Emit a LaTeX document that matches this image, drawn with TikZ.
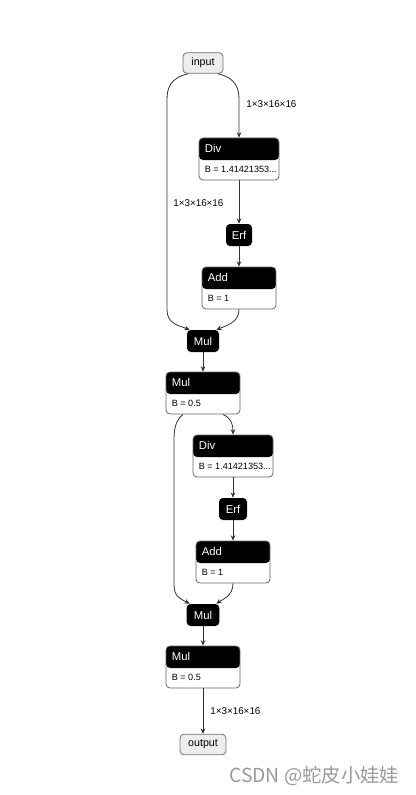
\documentclass[tikz,border=0pt]{standalone}
\usepackage{fontspec}
\setmainfont{Liberation Sans}
\newfontfamily\cjk{Noto Sans CJK SC}
\usetikzlibrary{arrows.meta}

\begin{document}
\begin{tikzpicture}[x=0.75pt,y=-0.75pt,
		edge/.style={draw=black!80, line width=0.6pt, -{Stealth[length=4pt,width=3.5pt]}},
		tensorbox/.style={draw=black!55, fill=black!7, rounded corners=3pt, line width=0.6pt,
			minimum height=15.5pt, inner xsep=3pt, font=\fontsize{8}{9}\selectfont},
		opsmall/.style={fill=black, rounded corners=3pt, text=white, minimum height=16.5pt,
			inner xsep=2pt, font=\fontsize{8.5}{9}\selectfont},
		opbox/.style={draw=black!60, rounded corners=3pt, line width=0.6pt, fill=white,
			minimum width=55.5pt, minimum height=31.5pt,
			path picture={\fill[black] (path picture bounding box.north west)
				rectangle ([yshift=-16.5pt]path picture bounding box.north east);}},
		optitle/.style={anchor=west, text=white, inner sep=0pt, font=\fontsize{8.5}{9}\selectfont},
		opattr/.style={anchor=west, inner sep=0pt, font=\fontsize{6.8}{7}\selectfont},
		shape label/.style={inner sep=0pt, font=\fontsize{7.4}{8}\selectfont}]

	\useasboundingbox (0,0) rectangle (416,795);

	\node[tensorbox, minimum width=30pt] (input) at (203,63) {input};

	\node[opbox, minimum width=60pt] (div1) at (239,159) {};
	\node[optitle] (div1t) at ([xshift=4.5pt,yshift=-8.25pt]div1.north west) {Div};
	\node[opattr] (div1a) at ([xshift=4.5pt,yshift=-24pt]div1.north west) {B = 1.41421353...};

	\node[opsmall, minimum width=19.5pt] (erf1) at (239,235) {Erf};

	\node[opbox] (add1) at (239,288) {};
	\node[optitle] (add1t) at ([xshift=4.5pt,yshift=-8.25pt]add1.north west) {Add};
	\node[opattr] (add1a) at ([xshift=4.5pt,yshift=-24pt]add1.north west) {B = 1};

	\node[opsmall, minimum width=24pt] (mul1) at (203,341) {Mul};

	\node[opbox] (mul2) at (203,393) {};
	\node[optitle] (mul2t) at ([xshift=4.5pt,yshift=-8.25pt]mul2.north west) {Mul};
	\node[opattr] (mul2a) at ([xshift=4.5pt,yshift=-24pt]mul2.north west) {B = 0.5};

	\node[opbox, minimum width=60pt] (div2) at (233,456) {};
	\node[optitle] (div2t) at ([xshift=4.5pt,yshift=-8.25pt]div2.north west) {Div};
	\node[opattr] (div2a) at ([xshift=4.5pt,yshift=-24pt]div2.north west) {B = 1.41421353...};

	\node[opsmall, minimum width=21pt] (erf2) at (233,509) {Erf};

	\node[opbox] (add2) at (233,562) {};
	\node[optitle] (add2t) at ([xshift=4.5pt,yshift=-8.25pt]add2.north west) {Add};
	\node[opattr] (add2a) at ([xshift=4.5pt,yshift=-24pt]add2.north west) {B = 1};

	\node[opsmall, minimum width=24.5pt] (mul3) at (203,615) {Mul};

	\node[opbox] (mul4) at (203,667) {};
	\node[optitle] (mul4t) at ([xshift=4.5pt,yshift=-8.25pt]mul4.north west) {Mul};
	\node[opattr] (mul4a) at ([xshift=4.5pt,yshift=-24pt]mul4.north west) {B = 0.5};

	\node[tensorbox, minimum width=34.5pt] (output) at (203,744.5) {output};

	\draw[edge] ([xshift=11pt]input.south) .. controls (236,78) and (239,88) .. (239,100) -- (div1.north);
	\draw[edge] ([xshift=-11pt]input.south) .. controls (170,78) and (167,88) .. (167,100)
		-- (167,310) .. controls (167,324) and (180,326) .. ([xshift=-10pt]mul1.north);
	\draw[edge] (div1.south) -- (erf1.north);
	\draw[edge] (erf1.south) -- (add1.north);
	\draw[edge] (add1.south) .. controls (239,322) and (228,325) .. ([xshift=10pt]mul1.north);
	\draw[edge] (mul1.south) -- (mul2.north);
	\draw[edge] ([xshift=15pt]mul2.south) .. controls (231,418) and (233,424) .. (div2.north);
	\draw[edge] ([xshift=-15pt]mul2.south) .. controls (176,420) and (174,428) .. (174,440)
		-- (174,585) .. controls (174,597) and (181,599) .. ([xshift=-10pt]mul3.north);
	\draw[edge] (div2.south) -- (erf2.north);
	\draw[edge] (erf2.south) -- (add2.north);
	\draw[edge] (add2.south) .. controls (233,596) and (223,599) .. ([xshift=10pt]mul3.north);
	\draw[edge] (mul3.south) -- (mul4.north);
	\draw[edge] (mul4.south) -- (output.north);

	\node[shape label, anchor=west] (lab1) at (246,104) {1×3×16×16};
	\node[shape label, anchor=west] (lab2) at (173,203) {1×3×16×16};
	\node[shape label, anchor=west] (lab3) at (210,711) {1×3×16×16};

	\node[anchor=west, inner sep=0pt, text=black!40, font=\cjk\fontsize{14.5}{15}\selectfont] (mark) at (229,776) {CSDN @蛇皮小娃娃};
\end{tikzpicture}
\end{document}
